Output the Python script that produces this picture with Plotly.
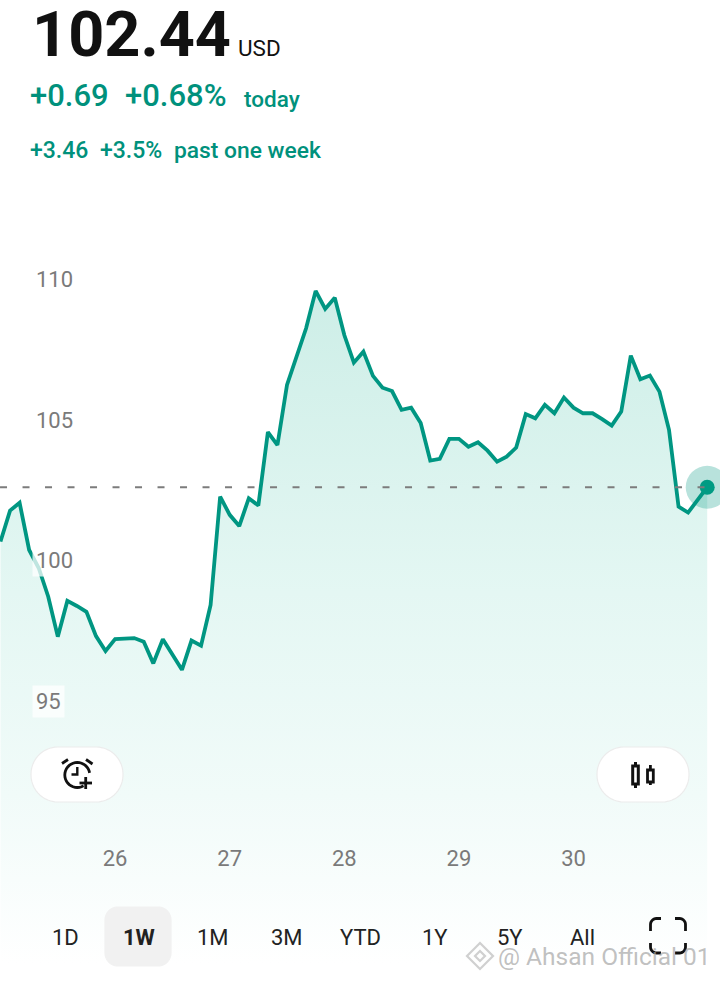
import numpy as np
import plotly.graph_objects as go

# ---------- data ----------
sample_index = list(range(75))
prices = [100.51, 101.61, 101.89, 100.21, 99.57, 98.55, 97.13, 98.40, 98.22, 98.01,
          97.15, 96.62, 97.04, 97.05, 97.08, 96.95, 96.18, 97.04, 96.51, 95.95,
          96.99, 96.81, 98.26, 102.11, 101.46, 101.06, 102.05, 101.79, 104.40, 103.94,
          106.08, 107.14, 108.09, 109.42, 108.78, 109.18, 107.85, 106.87, 107.26, 106.40,
          105.98, 105.86, 105.19, 105.27, 104.72, 103.39, 103.45, 104.16, 104.16, 103.88,
          104.04, 103.74, 103.35, 103.53, 103.85, 105.04, 104.89, 105.37, 105.07, 105.63,
          105.27, 105.07, 105.07, 104.86, 104.63, 105.13, 107.12, 106.28, 106.41, 105.84,
          104.48, 101.75, 101.54, 101.99, 102.44]
day_ticks = [12, 24, 36, 48, 60]
day_labels = ["26", "27", "28", "29", "30"]
price_ticks = [110, 105, 100, 95]
ranges = ["1D", "1W", "1M", "3M", "YTD", "1Y", "5Y", "All"]
range_centers = [65, 139, 213, 287, 360, 435, 510, 582]

W, H = 720, 981
TEAL = "#00917c"
LINE = "#009682"
GREY = "#7a7a7a"
FONT = "Roboto"


def px(x):
    return x / W


def py(y):
    return 1 - y / H


def path(points, close=False):
    s = "M " + " L ".join(f"{px(x):.5f},{py(y):.5f}" for x, y in points)
    return s + (" Z" if close else "")


def rounded(x0, y0, x1, y1, r):
    pts = []
    for cx, cy, a0 in [(x1 - r, y0 + r, -90), (x1 - r, y1 - r, 0), (x0 + r, y1 - r, 90), (x0 + r, y0 + r, 180)]:
        for a in np.radians(np.linspace(a0, a0 + 90, 14)):
            pts.append((cx + r * np.cos(a), cy + r * np.sin(a)))
    return path(pts, True)


def arc(cx, cy, r, a0, a1, n=30):
    return [(cx + r * np.cos(a), cy + r * np.sin(a)) for a in np.radians(np.linspace(a0, a1, n))]


shapes = []


def stroke(points, color="#111111", width=2.6, close=False):
    shapes.append(dict(type="path", xref="paper", yref="paper", path=path(points, close),
                       line=dict(color=color, width=width), layer="above"))


def panel(x0, y0, x1, y1, r, fill, border=None):
    shapes.append(dict(type="path", xref="paper", yref="paper", path=rounded(x0, y0, x1, y1, r),
                       fillcolor=fill, line=dict(color=border or fill, width=1.2), layer="above"))


fig = go.Figure()

fig.add_trace(go.Scatter(
    x=sample_index, y=prices, mode="lines", fill="tozeroy",
    line=dict(color=LINE, width=3.8, shape="linear"),
    fillgradient=dict(type="vertical", start=85.5, stop=109.5,
                      colorscale=[[0, "#ffffff"], [0.25, "#f1fbf9"], [0.55, "#e4f7f3"], [1, "#cdeee7"]]),
    hoverinfo="skip", showlegend=False,
))
fig.add_trace(go.Scatter(
    x=sample_index[-1:], y=prices[-1:], mode="markers",
    marker=dict(size=43, color="rgba(0,150,128,0.28)", line=dict(width=0)),
    hoverinfo="skip", showlegend=False, cliponaxis=False,
))
fig.add_trace(go.Scatter(
    x=sample_index[-1:], y=prices[-1:], mode="markers",
    marker=dict(size=15, color="#009b83", line=dict(width=0)),
    hoverinfo="skip", showlegend=False, cliponaxis=False,
))

# dashed guide at the latest price
shapes.append(dict(type="line", xref="x", yref="y", x0=-0.05, x1=sample_index[-1], y0=prices[-1], y1=prices[-1],
                   line=dict(color="#7c7c7c", width=1.9, dash="7px,15.5px"), layer="above"))

# pills and chip
panel(31, 747, 123, 802, 27, "#ffffff", "#ececec")
panel(597, 747, 689, 802, 27, "#ffffff", "#ececec")
panel(105, 907, 171, 966, 13, "#f1f1f1")

# alarm icon
stroke(arc(77.3, 775, 12.5, 60, 350), width=2.8)
stroke([(77.3, 767), (77.3, 774.5), (71.5, 774.5)], width=2.4)
stroke([(85.7, 777), (85.7, 789)], width=2.8)
stroke([(79.5, 783), (92, 783)], width=2.8)
stroke([(62, 763.5), (68, 759.5)], width=2.8)
stroke([(86, 759.5), (92.5, 764)], width=2.8)

# candlestick icon
stroke([(632.7, 766), (638.3, 766), (638.3, 784), (632.7, 784)], close=True, width=3)
stroke([(635.5, 762), (635.5, 766)], width=3)
stroke([(635.5, 784), (635.5, 788)], width=3)
stroke([(647.5, 770), (653.3, 770), (653.3, 782), (647.5, 782)], close=True, width=2.8)
stroke([(650.4, 765), (650.4, 770)], width=2.8)
stroke([(650.4, 782), (650.4, 785)], width=2.8)

# fullscreen icon
stroke([(650.5, 931)] + arc(656.5, 924.5, 6, 180, 270, 8) + [(661, 918.5)], width=2.8)
stroke([(675, 918.5)] + arc(679.5, 924.5, 6, 270, 360, 8) + [(685.5, 931)], width=2.8)
stroke([(650.5, 943)] + arc(656.5, 947, 6, 180, 90, 8) + [(661, 953)], width=2.8)
stroke([(675, 953)] + arc(679.5, 947, 6, 90, 0, 8) + [(685.5, 943)], width=2.8)

# watermark logo
WM = "rgba(170,170,170,0.55)"
stroke([(480, 943), (493, 956), (480, 969), (467, 956)], color=WM, width=2.2, close=True)
stroke([(480, 951), (485, 956), (480, 961), (475, 956)], color=WM, width=2.2, close=True)

annotations = []


def label(text, x, y, size, color, anchor="left", weight=400, bg=None):
    annotations.append(dict(text=text, xref="paper", yref="paper", x=px(x), y=py(y), xanchor=anchor,
                            yanchor="middle", showarrow=False, borderpad=0, bgcolor=bg,
                            font=dict(family=FONT, size=size, color=color, weight=weight)))


label("102.44", 30.5, 34.5, 63, "#111111", weight=700)
label("USD", 237, 48, 22.5, "#111111")
label("+0.69", 29, 95.5, 31, TEAL, weight=500)
label("+0.68%", 124, 95.5, 31, TEAL, weight=500)
label("today", 242.5, 99.5, 22.5, TEAL, weight=500)
label("+3.46", 29, 150, 23, TEAL, weight=500)
label("+3.5%", 99, 150, 23, TEAL, weight=500)
label("past one week", 173, 150, 22.8, TEAL, weight=500)

# price labels sit slightly below their level
for v in price_ticks:
    bg = "rgba(255,255,255,0.75)" if v <= 100 else None
    annotations.append(dict(text=str(v), xref="paper", yref="y", x=px(31.5), y=v, xanchor="left", yanchor="middle",
                            yshift=-5, showarrow=False, borderpad=3, bgcolor=bg,
                            font=dict(family=FONT, size=22, color=GREY)))

for r, c in zip(ranges, range_centers):
    label(r, c, 937, 22, "#222222", anchor="center", weight=700 if r == "1W" else 400)

label("@ Ahsan Official 01", 497, 956, 24.5, "rgba(165,165,165,0.7)")

fig.update_layout(
    width=W, height=H, margin=dict(l=0, r=0, t=0, b=0),
    paper_bgcolor="#ffffff", plot_bgcolor="#ffffff", showlegend=False,
    shapes=shapes, annotations=annotations,
    xaxis=dict(range=[-0.052, 75.34], fixedrange=True, showgrid=False, zeroline=False, showline=False,
               tickmode="array", tickvals=day_ticks, ticktext=day_labels, ticks="",
               tickfont=dict(family=FONT, size=22, color=GREY),
               anchor="free", position=0.1405),
    yaxis=dict(range=[84.89, 119.76], fixedrange=True, showgrid=False, zeroline=False, showline=False,
               showticklabels=False, ticks=""),
)

fig.write_html("out.html", config={"displayModeBar": False}, post_script="document.body.style.margin='0';")
